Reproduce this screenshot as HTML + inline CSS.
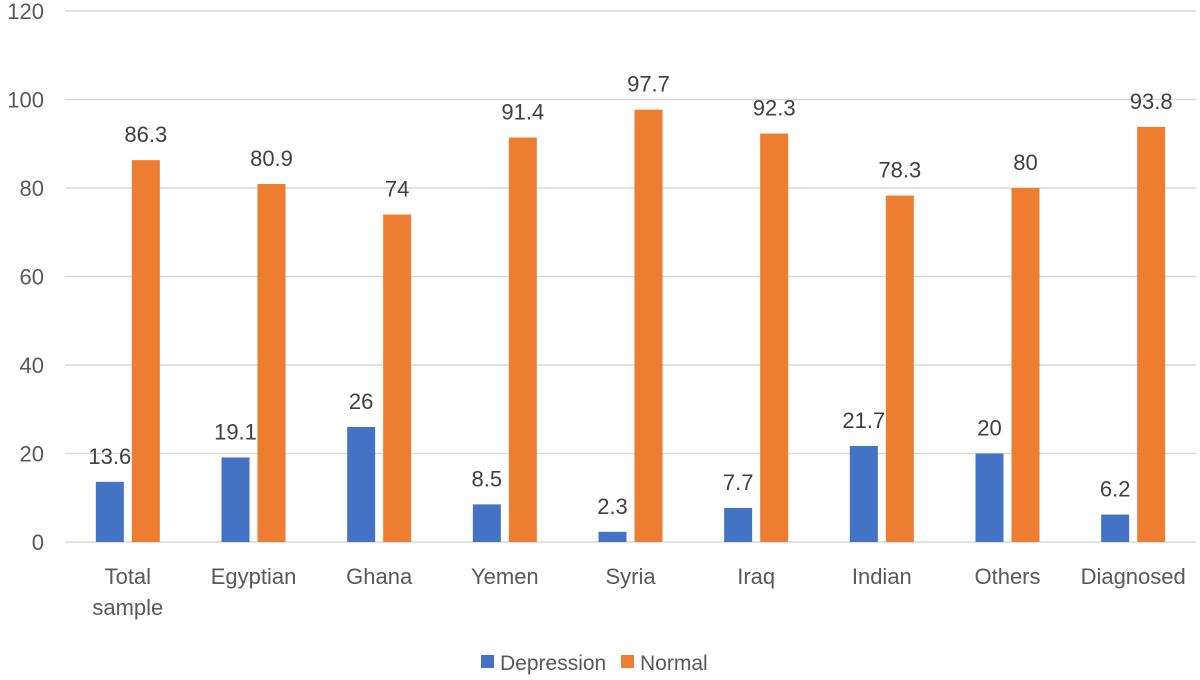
<!DOCTYPE html>
<html><head><meta charset="utf-8"><style>
body{margin:0;background:#fff;}
svg{display:block;font-family:"Liberation Sans",sans-serif;}
</style></head><body>
<svg id="chart" width="1200" height="680"></svg>
<script>
const categories=[["Total","sample"],["Egyptian"],["Ghana"],["Yemen"],["Syria"],["Iraq"],["Indian"],["Others"],["Diagnosed"]];
const depression=[13.6,19.1,26,8.5,2.3,7.7,21.7,20,6.2];
const normal=[86.3,80.9,74,91.4,97.7,92.3,78.3,80,93.8];
const yTicks=[0,20,40,60,80,100,120];
const NS="http://www.w3.org/2000/svg";
const svg=document.getElementById('chart');
const x0=65,x1=1196,y0=542,yTop=11;
const band=(x1-x0)/categories.length;
const y=v=>y0-(v/120)*(y0-yTop);
const cx=i=>x0+band*i+band/2;
function mk(t,a,txt){const e=document.createElementNS(NS,t);for(const k in a)e.setAttribute(k,a[k]);if(txt!==undefined)e.textContent=txt;svg.appendChild(e);return e;}
yTicks.forEach(t=>{
 const l=mk('line',{x1:x0,x2:x1,y1:y(t),y2:y(t),stroke:'#d9d9d9','stroke-width':1.5});
 
 
 const tx=mk('text',{x:44,y:y(t)+8,'text-anchor':'end','font-size':22,fill:'#595959'},t);
 
 
});
categories.forEach((c,i)=>{
 const c0=cx(i);
 const b=mk('rect',{x:c0-32,y:y(depression[i]),width:28,height:y0-y(depression[i]),fill:'#4472c4'});
 
 
 const o=mk('rect',{x:c0+4,y:y(normal[i]),width:28,height:y0-y(normal[i]),fill:'#ed7d31'});
 
 
 const dl=mk('text',{x:c0-18,y:y(depression[i])-18,'text-anchor':'middle','font-size':22,fill:'#404040'},depression[i]);
 
 
 const nl=mk('text',{x:c0+18,y:y(normal[i])-18,'text-anchor':'middle','font-size':22,fill:'#404040'},normal[i]);
 
 
 c.forEach((line,j)=>{
  const t=mk('text',{x:c0,y:584+j*31,'text-anchor':'middle','font-size':22,fill:'#595959'},line);
  
  
 });
});
const lg=[['Depression','#4472c4',481],['Normal','#ed7d31',621]];
lg.forEach(([n,col,lx])=>{
 const r=mk('rect',{x:lx,y:655,width:13,height:13,fill:col});
 
 
 const t=mk('text',{x:lx+19,y:670,'font-size':21,fill:'#595959'},n);
 
 
});
</script>
</body></html>
